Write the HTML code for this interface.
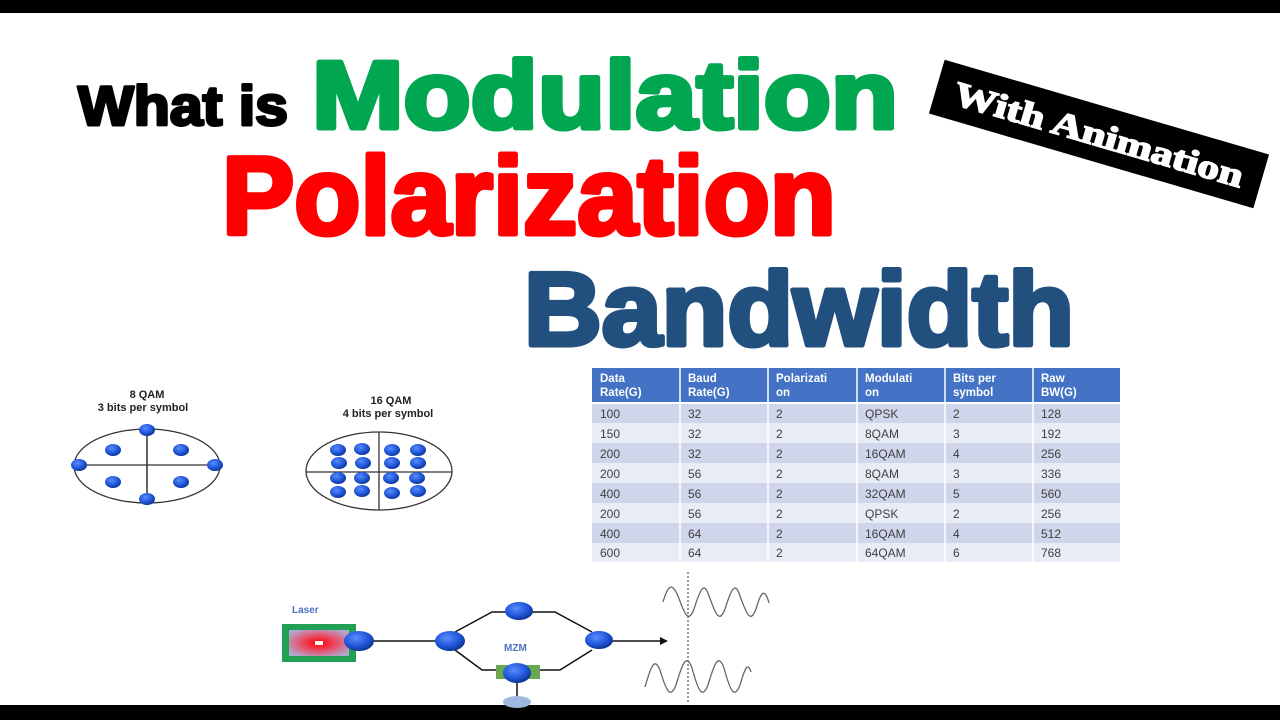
<!DOCTYPE html>
<html><head><meta charset="utf-8"><style>
html,body{margin:0;padding:0;background:#fff;}
svg{display:block}
</style></head><body>
<svg width="1280" height="720" viewBox="0 0 1280 720" xmlns="http://www.w3.org/2000/svg" font-family="Liberation Sans, sans-serif">
<defs>
<radialGradient id="dot" cx="0.4" cy="0.35" r="0.7">
<stop offset="0" stop-color="#5a8cff"/><stop offset="0.6" stop-color="#1f55d8"/><stop offset="1" stop-color="#0b2f8a"/>
</radialGradient>
<radialGradient id="las" cx="0.5" cy="0.5" r="0.6">
<stop offset="0" stop-color="#ff0000"/><stop offset="0.5" stop-color="#e8506a"/><stop offset="1" stop-color="#b0a8d0"/>
</radialGradient>
</defs>
<rect x="0" y="0" width="1280" height="13" fill="#000"/>
<rect x="0" y="705" width="1280" height="15" fill="#000"/>

<text x="78" y="125" font-size="56" font-weight="bold" fill="#000" stroke="#000" stroke-width="3" stroke-linejoin="round" textLength="210" lengthAdjust="spacingAndGlyphs">What is</text>
<text x="312" y="128" font-size="96" font-weight="bold" fill="#00a650" stroke="#00a650" stroke-width="5" stroke-linejoin="round" textLength="586" lengthAdjust="spacingAndGlyphs">Modulation</text>
<text x="222" y="234" font-size="110" font-weight="bold" fill="#ff0000" stroke="#ff0000" stroke-width="5" stroke-linejoin="round" textLength="614" lengthAdjust="spacingAndGlyphs">Polarization</text>
<text x="524" y="345" font-size="104" font-weight="bold" fill="#21507f" stroke="#21507f" stroke-width="5" stroke-linejoin="round" textLength="550" lengthAdjust="spacingAndGlyphs">Bandwidth</text>

<g transform="translate(1099,134) rotate(16.3)">
<rect x="-169" y="-28" width="338" height="56" fill="#000"/>
<text x="0" y="12" text-anchor="middle" font-family="Liberation Serif, serif" font-weight="bold" font-size="34" fill="#fff" stroke="#fff" stroke-width="1.5" textLength="300" lengthAdjust="spacingAndGlyphs">With Animation</text>
</g>

<g font-size="12" fill="#404040">
<rect x="592" y="368" width="528" height="35" fill="#4472c4"/>
<rect x="592" y="403" width="528" height="20" fill="#cfd5ea"/>
<rect x="592" y="423" width="528" height="20" fill="#e9ebf5"/>
<rect x="592" y="443" width="528" height="20" fill="#cfd5ea"/>
<rect x="592" y="463" width="528" height="20" fill="#e9ebf5"/>
<rect x="592" y="483" width="528" height="20" fill="#cfd5ea"/>
<rect x="592" y="503" width="528" height="20" fill="#e9ebf5"/>
<rect x="592" y="523" width="528" height="20" fill="#cfd5ea"/>
<rect x="592" y="543" width="528" height="19" fill="#e9ebf5"/>
<g stroke="#fff" stroke-width="1.5">
<line x1="680" y1="368" x2="680" y2="562"/><line x1="768" y1="368" x2="768" y2="562"/>
<line x1="857" y1="368" x2="857" y2="562"/><line x1="945" y1="368" x2="945" y2="562"/>
<line x1="1033" y1="368" x2="1033" y2="562"/>
<line x1="592" y1="403" x2="1120" y2="403" stroke-width="2"/>
</g>
<g fill="#fff" font-weight="bold" font-size="11.5">
<text x="600" y="382">Data</text><text x="600" y="396">Rate(G)</text>
<text x="688" y="382">Baud</text><text x="688" y="396">Rate(G)</text>
<text x="776" y="382">Polarizati</text><text x="776" y="396">on</text>
<text x="865" y="382">Modulati</text><text x="865" y="396">on</text>
<text x="953" y="382">Bits per</text><text x="953" y="396">symbol</text>
<text x="1041" y="382">Raw</text><text x="1041" y="396">BW(G)</text>
</g>
<g>
<text x="600" y="418">100</text><text x="688" y="418">32</text><text x="776" y="418">2</text><text x="865" y="418">QPSK</text><text x="953" y="418">2</text><text x="1041" y="418">128</text>
<text x="600" y="438">150</text><text x="688" y="438">32</text><text x="776" y="438">2</text><text x="865" y="438">8QAM</text><text x="953" y="438">3</text><text x="1041" y="438">192</text>
<text x="600" y="458">200</text><text x="688" y="458">32</text><text x="776" y="458">2</text><text x="865" y="458">16QAM</text><text x="953" y="458">4</text><text x="1041" y="458">256</text>
<text x="600" y="478">200</text><text x="688" y="478">56</text><text x="776" y="478">2</text><text x="865" y="478">8QAM</text><text x="953" y="478">3</text><text x="1041" y="478">336</text>
<text x="600" y="498">400</text><text x="688" y="498">56</text><text x="776" y="498">2</text><text x="865" y="498">32QAM</text><text x="953" y="498">5</text><text x="1041" y="498">560</text>
<text x="600" y="518">200</text><text x="688" y="518">56</text><text x="776" y="518">2</text><text x="865" y="518">QPSK</text><text x="953" y="518">2</text><text x="1041" y="518">256</text>
<text x="600" y="538">400</text><text x="688" y="538">64</text><text x="776" y="538">2</text><text x="865" y="538">16QAM</text><text x="953" y="538">4</text><text x="1041" y="538">512</text>
<text x="600" y="557">600</text><text x="688" y="557">64</text><text x="776" y="557">2</text><text x="865" y="557">64QAM</text><text x="953" y="557">6</text><text x="1041" y="557">768</text>
</g>
</g>

<g font-size="11" font-weight="bold" fill="#222" text-anchor="middle">
<text x="147" y="398">8 QAM</text><text x="143" y="411">3 bits per symbol</text>
<text x="391" y="404">16 QAM</text><text x="388" y="417">4 bits per symbol</text>
</g>
<ellipse cx="147" cy="466" rx="73" ry="37" fill="none" stroke="#333" stroke-width="1.3"/>
<line x1="75" y1="465" x2="216" y2="465" stroke="#333" stroke-width="1.3"/>
<line x1="147" y1="430" x2="147" y2="500" stroke="#333" stroke-width="1.5"/>
<g fill="url(#dot)">
<ellipse cx="147" cy="430" rx="8" ry="6"/><ellipse cx="147" cy="499" rx="8" ry="6"/>
<ellipse cx="79" cy="465" rx="8" ry="6"/><ellipse cx="215" cy="465" rx="8" ry="6"/>
<ellipse cx="113" cy="450" rx="8" ry="6"/><ellipse cx="181" cy="450" rx="8" ry="6"/>
<ellipse cx="113" cy="482" rx="8" ry="6"/><ellipse cx="181" cy="482" rx="8" ry="6"/>
</g>
<ellipse cx="379" cy="471" rx="73" ry="39" fill="none" stroke="#333" stroke-width="1.3"/>
<line x1="306" y1="472" x2="452" y2="472" stroke="#333" stroke-width="1.3"/>
<line x1="379" y1="432" x2="379" y2="510" stroke="#333" stroke-width="1.3"/>
<g fill="url(#dot)">
<ellipse cx="338" cy="450" rx="8" ry="6"/><ellipse cx="362" cy="449" rx="8" ry="6"/><ellipse cx="392" cy="450" rx="8" ry="6"/><ellipse cx="418" cy="450" rx="8" ry="6"/>
<ellipse cx="339" cy="463" rx="8" ry="6"/><ellipse cx="363" cy="463" rx="8" ry="6"/><ellipse cx="392" cy="463" rx="8" ry="6"/><ellipse cx="418" cy="463" rx="8" ry="6"/>
<ellipse cx="338" cy="478" rx="8" ry="6"/><ellipse cx="362" cy="478" rx="8" ry="6"/><ellipse cx="391" cy="478" rx="8" ry="6"/><ellipse cx="417" cy="478" rx="8" ry="6"/>
<ellipse cx="338" cy="492" rx="8" ry="6"/><ellipse cx="362" cy="491" rx="8" ry="6"/><ellipse cx="392" cy="493" rx="8" ry="6"/><ellipse cx="418" cy="491" rx="8" ry="6"/>
</g>

<text x="292" y="613" font-size="10" font-weight="bold" fill="#4a72c4">Laser</text>
<rect x="282" y="624" width="74" height="38" fill="#1fa055"/>
<rect x="289" y="630" width="60" height="26" fill="url(#las)"/>
<rect x="315" y="641" width="8" height="4" fill="#fff"/>
<g stroke="#111" stroke-width="1.5" fill="none">
<line x1="370" y1="641" x2="440" y2="641"/>
<polyline points="455,632 492,612 555,612 592,632"/>
<polyline points="455,650 482,670 560,670 592,650"/>
<line x1="612" y1="641" x2="660" y2="641"/>
<line x1="517" y1="675" x2="517" y2="700"/>
</g>
<polygon points="660,637 668,641 660,645" fill="#111"/>
<rect x="496" y="665" width="44" height="14" fill="#6aa84f"/>
<ellipse cx="517" cy="702" rx="14" ry="6" fill="#9fb8e0"/>
<text x="504" y="651" font-size="10" font-weight="bold" fill="#4a72c4">MZM</text>
<g fill="url(#dot)">
<ellipse cx="359" cy="641" rx="15" ry="10"/>
<ellipse cx="450" cy="641" rx="15" ry="10"/>
<ellipse cx="519" cy="611" rx="14" ry="9"/>
<ellipse cx="599" cy="640" rx="14" ry="9"/>
<ellipse cx="517" cy="673" rx="14" ry="10"/>
</g>
<g stroke="#666" stroke-width="1.3" fill="none">
<path d="M663,602 C668,585 672,582 678,596 C684,612 688,625 694,609 C700,590 704,580 709,596 C715,612 719,625 725,609 C731,590 735,580 740,596 C746,612 750,625 756,609 C760,595 764,585 769,603"/>
<path d="M645,687 C650,670 654,655 660,670 C666,690 670,700 676,685 C682,665 686,652 692,668 C698,690 702,700 708,685 C714,665 718,652 724,668 C730,690 734,700 740,685 C744,672 747,660 751,672"/>
</g>
<line x1="688" y1="572" x2="688" y2="704" stroke="#555" stroke-width="1.2" stroke-dasharray="2,2"/>
</svg>
</body></html>
